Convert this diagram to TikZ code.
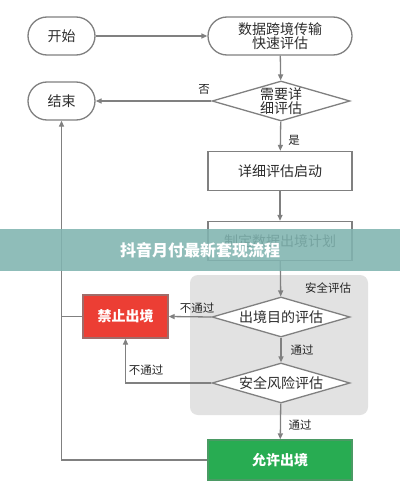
\documentclass[tikz,border=0pt]{standalone}
\usepackage{fontspec}
\setmainfont{Noto Sans CJK SC}
\usetikzlibrary{shapes.geometric,arrows.meta,positioning}
\definecolor{lineg}{RGB}{128,128,128}
\definecolor{txtc}{RGB}{45,45,45}
\definecolor{regiong}{RGB}{226,226,226}
\definecolor{redc}{RGB}{236,62,52}
\definecolor{greenc}{RGB}{40,172,82}
\definecolor{bannerc}{RGB}{128,180,176}
\tikzset{
  base/.style={draw=lineg, line width=1.3pt, text=txtc, font=\fontsize{14}{16}\selectfont, inner sep=0pt, align=center},
  pill/.style={base, rounded corners=19pt, minimum height=38pt, fill=white},
  boxn/.style={base, minimum width=144pt, minimum height=39pt, fill=white},
  dia/.style={draw=lineg, line width=1.3pt, diamond, minimum width=138pt, minimum height=40pt, inner sep=0pt, fill=white},
  ditext/.style={text=txtc, font=\fontsize{14}{16}\selectfont, inner sep=0pt, align=center},
  lab/.style={text=black!85, font=\fontsize{11.5}{13}\selectfont, inner sep=0pt},
  conn/.style={draw=lineg, line width=1.3pt, -{Triangle[length=6pt,width=5pt]}},
  plain/.style={draw=lineg, line width=1.3pt},
}
\begin{document}
\begin{tikzpicture}[x=1pt,y=-1pt]
\useasboundingbox (0,0) rectangle (400,503);
\fill[white] (0,0) rectangle (400,503);
% grey region
\fill[regiong, rounded corners=8pt] (190,275) rectangle (368,415);
\node[lab] (seclab) at (328,288) {安全评估};
% nodes
\node[pill, minimum width=67pt] (start) at (61.5,36) {开始};
\node[pill, minimum width=144pt] (data) at (280,36) {数据跨境传输\\[-2pt]快速评估};
\node[dia] (d1) at (281,101) {};
\node[ditext] (d1t) at (281,101) {需要详\\[-2pt]细评估};
\node[pill, minimum width=67pt] (end) at (61.5,101) {结束};
\node[boxn] (b1) at (280,171) {详细评估启动};
\node[boxn] (b2) at (280,241) {制定数据出境计划};
\node[dia] (d2) at (281,317) {};
\node[ditext] (d2t) at (281,317) {出境目的评估};
\node[dia] (d3) at (281,383) {};
\node[ditext] (d3t) at (281,383) {安全风险评估};
\node[base, draw=lineg!70!redc, fill=redc, text=white, font=\fontsize{14}{16}\selectfont\bfseries, minimum width=85pt, minimum height=43pt] (red) at (125.5,316.5) {禁止出境};
\node[base, draw=lineg!40!greenc, fill=greenc, text=white, font=\fontsize{14}{16}\selectfont\bfseries, minimum width=144pt, minimum height=40pt] (green) at (280,460) {允许出境};
% connectors
\draw[conn] (start) -- (data);
\draw[conn] (data) -- (d1);
\draw[conn] (d1.west) -- (end.east);
\draw[conn] (d1) -- (b1);
\draw[conn] (b1) -- (b2);
\draw[conn] (b2) -- (d2);
\draw[conn] (d2.west) -- (red.east);
\draw[conn] (d2) -- (d3);
\draw[conn] (d3.west) -| (red.south);
\draw[conn] (d3) -- (green);
\draw[conn] (green.west) -| (end.south);
\coordinate (jn) at (red.west -| end.south);
\draw[plain] (red.west) -- (jn);
% labels
\node[lab] (lno) at (204,89) {否};
\node[lab] (lyes) at (294,140) {是};
\node[lab] (lf1) at (197,308) {不通过};
\node[lab] (lp1) at (302,350) {通过};
\node[lab] (lf2) at (146,370) {不通过};
\node[lab] (lp2) at (300,425) {通过};
% banner
\fill[bannerc, opacity=0.88] (0,229) rectangle (400,271);
\node[text=white, font=\fontsize{16}{18}\selectfont\bfseries, inner sep=0pt] (title) at (200,250) {抖音月付最新套现流程};
\end{tikzpicture}
\end{document}
